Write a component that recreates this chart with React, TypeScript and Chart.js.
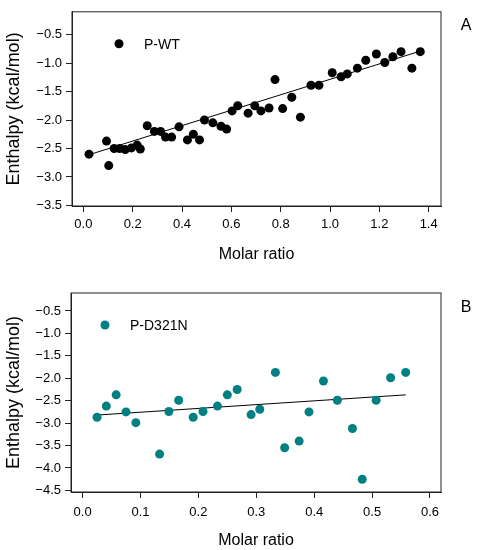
import React, { useEffect, useRef } from "react";
import { Chart, registerables } from "chart.js";

Chart.register(...registerables);

// ---- Data: panel A (P-WT) ----
const wtX = [0.023, 0.094, 0.103, 0.125, 0.147, 0.170, 0.195, 0.218, 0.231, 0.259, 0.288, 0.313, 0.333, 0.358, 0.388, 0.422, 0.446, 0.471, 0.491, 0.525, 0.558, 0.581, 0.603, 0.626, 0.668, 0.695, 0.720, 0.753, 0.777, 0.808, 0.845, 0.880, 0.923, 0.955, 1.009, 1.045, 1.070, 1.111, 1.145, 1.188, 1.222, 1.255, 1.288, 1.332, 1.366];
const wtY = [-2.60, -2.37, -2.80, -2.50, -2.50, -2.52, -2.49, -2.44, -2.51, -2.10, -2.20, -2.20, -2.30, -2.30, -2.12, -2.35, -2.25, -2.35, -2.00, -2.05, -2.11, -2.16, -1.84, -1.75, -1.88, -1.75, -1.84, -1.79, -1.29, -1.80, -1.60, -1.95, -1.39, -1.39, -1.17, -1.24, -1.19, -1.09, -0.95, -0.84, -0.99, -0.89, -0.80, -1.09, -0.80];
const wtFitX = [0.03, 1.366];
const wtFitY = [-2.60, -0.79];

// ---- Data: panel B (P-D321N) ----
const dnX = [0.025, 0.041, 0.058, 0.075, 0.092, 0.133, 0.149, 0.166, 0.191, 0.208, 0.233, 0.250, 0.267, 0.291, 0.306, 0.333, 0.349, 0.374, 0.391, 0.416, 0.440, 0.466, 0.483, 0.507, 0.532, 0.558];
const dnY = [-2.87, -2.62, -2.37, -2.75, -2.99, -3.69, -2.74, -2.49, -2.87, -2.74, -2.62, -2.37, -2.25, -2.81, -2.69, -1.87, -3.55, -3.40, -2.75, -2.06, -2.49, -3.12, -4.25, -2.49, -1.99, -1.87];
const dnFitX = [0.025, 0.558];
const dnFitY = [-2.82, -2.37];

// ---- Tick values ----
const aXTicks = [0, 0.2, 0.4, 0.6, 0.8, 1.0, 1.2, 1.4];
const aYTicks = [-3.5, -3.0, -2.5, -2.0, -1.5, -1.0, -0.5];
const bXTicks = [0, 0.1, 0.2, 0.3, 0.4, 0.5, 0.6];
const bYTicks = [-4.5, -4.0, -3.5, -3.0, -2.5, -2.0, -1.5, -1.0, -0.5];

const FONT = "'Liberation Sans', Arial, Helvetica, sans-serif";
const AXIS_COLOR = "#222";
const TEAL = "#008080";

const fmt = (v: any) => {
  const s = Number(v).toFixed(1);
  return s.startsWith("-") ? "\u2212" + s.slice(1) : s;
};

type PanelCfg = {
  xs: number[];
  ys: number[];
  fitX: number[];
  fitY: number[];
  color: string;
  label: string;
  letter: string;
  xTicks: number[];
  yTicks: number[];
  xMin: number;
  xMax: number;
  yMin: number;
  yMax: number;
  padTop: number;
  yAxisWidth: number;
  xAxisHeight: number;
  xTickPad: number;
  xTitlePadBottom: number;
  legendDx: number;
  letterY: number;
};

const panelA: PanelCfg = {
  xs: wtX, ys: wtY, fitX: wtFitX, fitY: wtFitY,
  color: "#000000", label: "P-WT", letter: "A",
  xTicks: aXTicks, yTicks: aYTicks,
  xMin: -0.046, xMax: 1.45, yMin: -3.51, yMax: -0.1,
  padTop: 7, yAxisWidth: 72, xAxisHeight: 69,
  xTickPad: 5, xTitlePadBottom: 11, legendDx: 47, letterY: 26,
};

const panelB: PanelCfg = {
  xs: dnX, ys: dnY, fitX: dnFitX, fitY: dnFitY,
  color: TEAL, label: "P-D321N", letter: "B",
  xTicks: bXTicks, yTicks: bYTicks,
  xMin: -0.02, xMax: 0.619, yMin: -4.535, yMax: -0.1,
  padTop: 18, yAxisWidth: 71, xAxisHeight: 58,
  xTickPad: 6.5, xTitlePadBottom: 0, legendDx: 34, letterY: 33,
};

function Panel({ cfg }: { cfg: PanelCfg }) {
  const ref = useRef<HTMLCanvasElement | null>(null);

  useEffect(() => {
    if (!ref.current) return;
    const decor = {
      id: "decor",
      afterDraw(chart: any) {
        const { ctx, chartArea } = chart;
        ctx.save();
        ctx.strokeStyle = AXIS_COLOR;
        ctx.lineWidth = 1;
        ctx.strokeRect(chartArea.left, chartArea.top, chartArea.right - chartArea.left, chartArea.bottom - chartArea.top);
        const lx = chartArea.left + cfg.legendDx;
        const ly = chartArea.top + 32;
        ctx.fillStyle = cfg.color;
        ctx.beginPath();
        ctx.arc(lx, ly, 4.5, 0, Math.PI * 2);
        ctx.fill();
        ctx.fillStyle = "#000";
        ctx.font = `14px ${FONT}`;
        ctx.textAlign = "left";
        ctx.textBaseline = "middle";
        ctx.fillText(cfg.label, lx + 25, ly + 1);
        ctx.font = `16px ${FONT}`;
        ctx.textAlign = "center";
        ctx.fillText(cfg.letter, 466, cfg.letterY);
        ctx.restore();
      },
    };

    const chart = new Chart(ref.current, {
      type: "scatter",
      data: {
        datasets: [
          {
            label: cfg.label,
            data: cfg.xs.map((x, i) => ({ x, y: cfg.ys[i] })),
            backgroundColor: cfg.color,
            borderWidth: 0,
            pointRadius: 4.5,
            pointHoverRadius: 4.5,
          },
          {
            type: "line",
            label: "fit",
            data: cfg.fitX.map((x, i) => ({ x, y: cfg.fitY[i] })),
            borderColor: "#000",
            borderWidth: 1,
            pointRadius: 0,
            showLine: true,
            fill: false,
          } as any,
        ],
      },
      options: {
        animation: false,
        responsive: false,
        layout: { padding: { top: cfg.padTop, right: 37, left: 0, bottom: 0 } },
        plugins: { legend: { display: false }, tooltip: { enabled: false } },
        scales: {
          x: {
            type: "linear",
            min: cfg.xMin,
            max: cfg.xMax,
            afterBuildTicks: (scale: any) => {
              scale.ticks = cfg.xTicks.map((v) => ({ value: v }));
            },
            afterFit: (scale: any) => {
              scale.height = cfg.xAxisHeight;
            },
            grid: { drawOnChartArea: false, drawTicks: true, tickLength: 6, color: AXIS_COLOR },
            border: { display: true, color: AXIS_COLOR, width: 1 },
            ticks: {
              autoSkip: false,
              maxRotation: 0,
              padding: cfg.xTickPad,
              color: "#000",
              font: { family: FONT, size: 13 },
              callback: fmt,
            },
            title: {
              display: true,
              text: "Molar ratio",
              color: "#000",
              font: { family: FONT, size: 16 },
              padding: { top: 0, bottom: cfg.xTitlePadBottom },
            },
          },
          y: {
            type: "linear",
            min: cfg.yMin,
            max: cfg.yMax,
            afterBuildTicks: (scale: any) => {
              scale.ticks = cfg.yTicks.map((v) => ({ value: v }));
            },
            afterFit: (scale: any) => {
              scale.width = cfg.yAxisWidth;
            },
            grid: { drawOnChartArea: false, drawTicks: true, tickLength: 6, color: AXIS_COLOR },
            border: { display: true, color: AXIS_COLOR, width: 1 },
            ticks: {
              autoSkip: false,
              padding: 4,
              color: "#000",
              font: { family: FONT, size: 13 },
              callback: fmt,
            },
            title: {
              display: true,
              text: "Enthalpy (kcal/mol)",
              color: "#000",
              font: { family: FONT, size: 18 },
              padding: { top: 3, bottom: 0 },
            },
          },
        },
      },
      plugins: [decor],
    });
    return () => chart.destroy();
  }, [cfg]);

  return (
    <div style={{ width: 478, height: 275, position: "relative" }}>
      <canvas ref={ref} width={478} height={275} style={{ display: "block", width: 478, height: 275 }} />
    </div>
  );
}

export default function App() {
  return (
    <div style={{ position: "fixed", left: 0, top: 0, width: 478, height: 550, background: "#fff" }}>
      <Panel cfg={panelA} />
      <Panel cfg={panelB} />
    </div>
  );
}
